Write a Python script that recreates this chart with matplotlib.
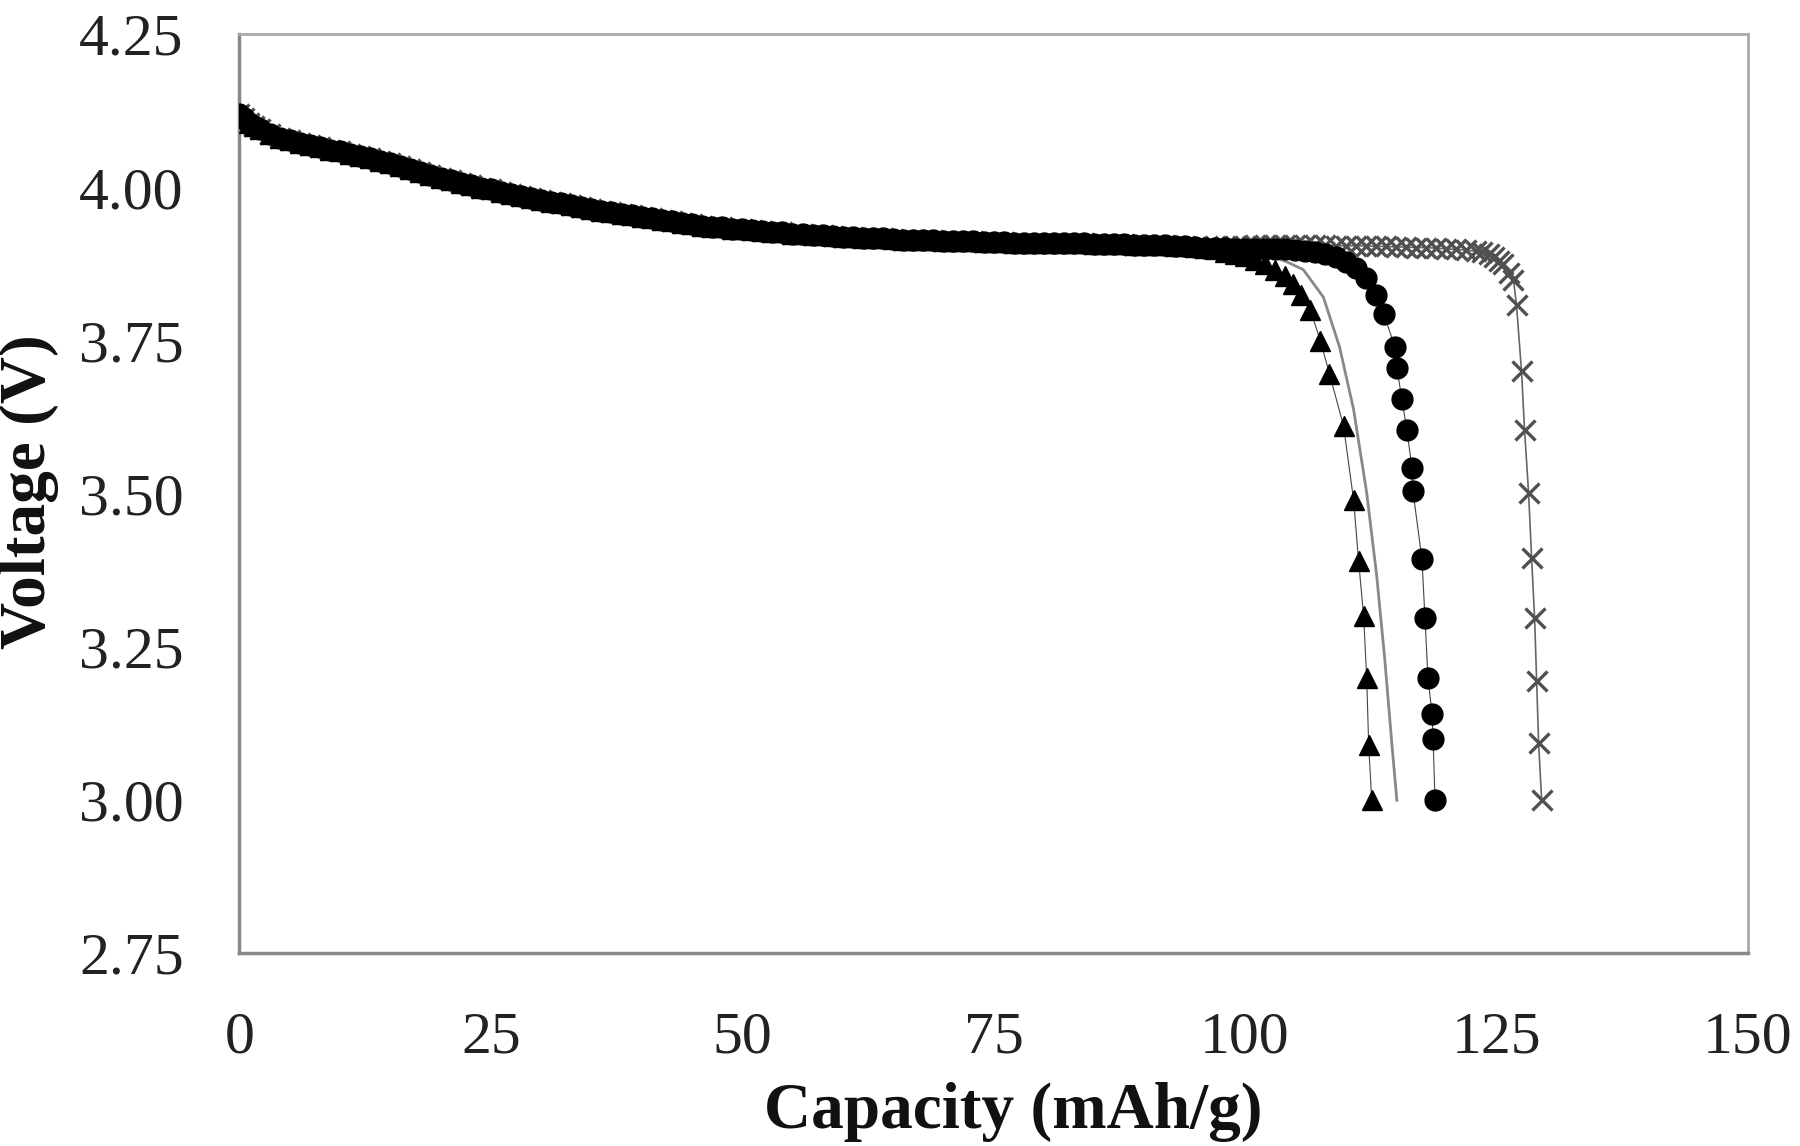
import matplotlib
matplotlib.use("Agg")
import matplotlib.pyplot as plt

plt.rcParams['font.family'] = ['Liberation Serif', 'DejaVu Serif']

# shared initial discharge curve (all four cells)
base_cap = [0, 0.5, 1, 1.5, 2, 3, 4, 5, 6, 7, 8, 9, 10, 11, 12, 13, 14, 15, 16, 17, 18,
            19, 20, 21, 22, 23, 24, 25, 26, 27, 28, 29, 30, 31, 32, 33, 34, 35, 36, 37,
            38, 39, 40, 41, 42, 43, 44, 45, 46, 47, 48, 49, 50, 51, 52, 53, 54, 55, 56,
            57, 58, 59, 60, 61, 62, 63, 64, 65, 66, 67, 68, 69, 70, 71, 72, 73, 74, 75,
            76, 77, 78, 79, 80, 81, 82, 83, 84, 85, 86, 87, 88, 89, 90, 91, 92, 93, 94,
            95, 96]
base_v = [4.12, 4.113, 4.105, 4.1, 4.096, 4.087, 4.081, 4.077, 4.073, 4.069, 4.066,
          4.062, 4.059, 4.055, 4.052, 4.048, 4.044, 4.04, 4.036, 4.031, 4.026, 4.021,
          4.016, 4.012, 4.008, 4.004, 4.0, 3.997, 3.993, 3.99, 3.986, 3.983, 3.98,
          3.977, 3.974, 3.971, 3.968, 3.965, 3.962, 3.96, 3.957, 3.955, 3.952,
          3.95, 3.947, 3.945, 3.942, 3.94, 3.938, 3.936, 3.935, 3.933, 3.932, 3.93,
          3.929, 3.928, 3.927, 3.925, 3.924, 3.923, 3.922, 3.921, 3.92, 3.919,
          3.918, 3.918, 3.917, 3.916, 3.915, 3.915, 3.914, 3.914, 3.913, 3.913,
          3.912, 3.912, 3.911, 3.911, 3.911, 3.91, 3.91, 3.91, 3.91, 3.909, 3.909,
          3.909, 3.909, 3.908, 3.908, 3.908, 3.908, 3.907, 3.907, 3.906, 3.906,
          3.905, 3.904, 3.903, 3.902]

# tails of each curve
tri_cap = [97, 98, 99, 100, 101, 102, 103, 104, 104.8, 105.6, 106.5, 107.5, 108.4,
           109.8, 110.8, 111.3, 111.8, 112.1, 112.3, 112.6]
tri_v = [3.899, 3.895, 3.892, 3.888, 3.882, 3.875, 3.866, 3.855, 3.842, 3.824, 3.80,
         3.75, 3.696, 3.611, 3.49, 3.39, 3.30, 3.20, 3.09, 3.0]

line_cap = [98, 100, 102, 104, 105.8, 107.8, 109.4, 110.8, 112.1, 113.1, 113.9,
            114.6, 115.1]
line_v = [3.9, 3.897, 3.89, 3.88, 3.866, 3.821, 3.74, 3.638, 3.502, 3.366, 3.23,
          3.093, 3.0]

circ_cap = [97, 98, 99, 100, 101, 102, 103, 104, 105, 106, 107, 108, 109, 110, 111,
            112, 113, 113.8, 114.9, 115.1, 115.6, 116.1, 116.6, 116.7, 117.6, 117.9,
            118.2, 118.6, 118.7, 118.9]
circ_v = [3.901, 3.901, 3.9, 3.9, 3.9, 3.9, 3.899, 3.899, 3.898, 3.897, 3.895,
          3.891, 3.886, 3.879, 3.869, 3.852, 3.825, 3.794, 3.74, 3.706, 3.655, 3.604,
          3.543, 3.505, 3.393, 3.297, 3.199, 3.141, 3.10, 3.0]

cross_cap = [97, 98, 99, 100, 101, 102, 103, 104, 105, 106, 107, 108, 109, 110, 111,
             112, 113, 114, 115, 116, 117, 118, 119, 120, 121, 122, 123, 123.6, 124.3,
             124.8, 125.3, 125.7, 126.3, 126.7, 127.0, 127.5, 127.8, 128.2, 128.5,
             128.8, 129.0, 129.2, 129.5]
cross_v = [3.905, 3.905, 3.905, 3.905, 3.906, 3.906, 3.906, 3.906, 3.906, 3.906,
           3.906, 3.906, 3.905, 3.905, 3.905, 3.905, 3.904, 3.904, 3.903, 3.903,
           3.902, 3.902, 3.901, 3.9, 3.899, 3.898, 3.896, 3.895, 3.891, 3.886, 3.88,
           3.875, 3.86, 3.849, 3.808, 3.70, 3.604, 3.502, 3.396, 3.297, 3.195, 3.093,
           3.0]

x_ticks = [0, 25, 50, 75, 100, 125, 150]
y_ticks = [2.75, 3.00, 3.25, 3.50, 3.75, 4.00, 4.25]

fig = plt.figure(figsize=(18, 11.46), dpi=100)
ax = fig.add_axes([0.133, 0.168, 0.838, 0.802])

ax.plot(base_cap + line_cap, base_v + line_v, color='#888888', lw=2.0, zorder=1)
ax.plot(base_cap + cross_cap, base_v + cross_v, color='#666666', lw=1.2,
        marker='x', markersize=15, mew=2.4, mec='#505050', zorder=2)
ax.plot(base_cap + circ_cap, base_v + circ_v, color='#444444', lw=0.8,
        marker='o', markersize=15, mfc='black', mec='black', zorder=3)
ax.plot(base_cap + tri_cap, base_v + tri_v, color='#444444', lw=0.8,
        marker='^', markersize=15, mfc='black', mec='black', zorder=4)

ax.set_xlim(0, 150)
ax.set_ylim(2.75, 4.25)
ax.set_xticks(x_ticks)
ax.set_xticklabels([str(t) for t in x_ticks])
ax.set_yticks(y_ticks)
ax.set_yticklabels([f"{t:.2f}" for t in y_ticks])
ax.tick_params(length=0, labelsize=43, colors='#222222')
ax.tick_params(axis='y', pad=40)
ax.tick_params(axis='x', pad=42)

for side in ['left', 'bottom']:
    ax.spines[side].set_color('#888888')
    ax.spines[side].set_linewidth(2.5)
for side in ['top', 'right']:
    ax.spines[side].set_color('#aaaaaa')
    ax.spines[side].set_linewidth(2.0)

fig.text(0.563, 0.03, 'Capacity (mAh/g)', fontsize=47, fontweight='bold',
         ha='center', va='center', color='#111111')
fig.text(0.016, 0.571, 'Voltage (V)', fontsize=47, fontweight='bold',
         ha='center', va='center', rotation=90, color='#111111')

fig.savefig('out.png', dpi=100, facecolor='white')
